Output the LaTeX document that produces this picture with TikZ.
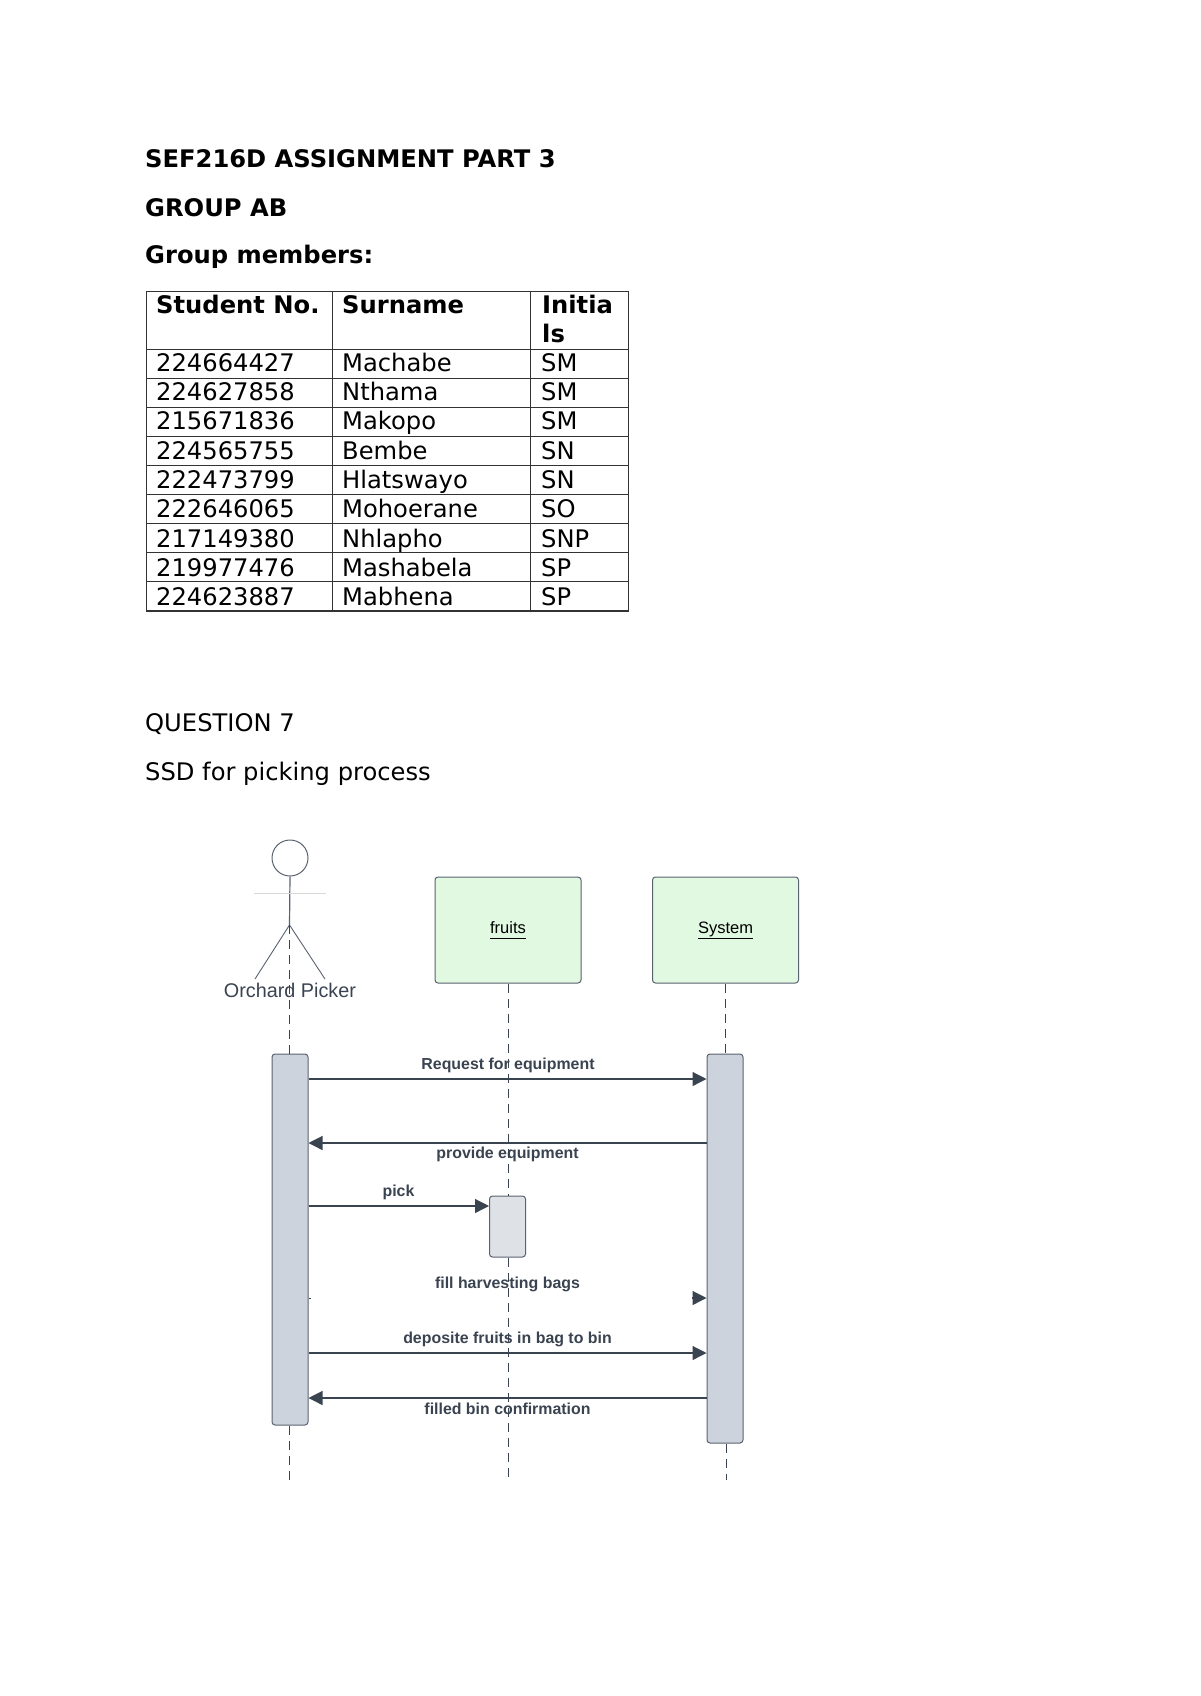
\documentclass[tikz,border=0pt]{standalone}
\usepackage{fontspec}
\setmainfont{DejaVu Sans}
\newfontfamily\lib{Liberation Sans}
\usetikzlibrary{arrows.meta,calc}
\definecolor{edgegrey}{HTML}{5A6270}
\definecolor{inkgrey}{HTML}{3A4350}
\definecolor{boxgreen}{HTML}{E1F8E1}
\definecolor{actgrey}{HTML}{CDD3DC}
\definecolor{pickgrey}{HTML}{DEE1E6}
\tikzset{
  doc/.style={anchor=base west,inner sep=0,font=\fontsize{24.2}{29}\selectfont},
  docb/.style={doc,font=\fontsize{24.2}{29}\selectfont\bfseries},
  rule/.style={black!80,line width=1pt},
  obj/.style={draw=edgegrey,fill=boxgreen,line width=1pt,rounded corners=3pt,minimum width=146,minimum height=106,inner sep=0,font=\lib\fontsize{16.5}{19}\selectfont,text=black},
  act/.style={draw=edgegrey,fill=actgrey,line width=1pt,rounded corners=3pt,minimum width=36,inner sep=0},
  life/.style={inkgrey,line width=1pt,dash pattern=on 9pt off 6pt},
  msg/.style={inkgrey,line width=1.2pt,-{Triangle[length=14pt,width=14pt]}},
  lab/.style={inner sep=0,text=inkgrey,font=\lib\fontsize{15.9}{18}\selectfont\bfseries}
}
\begin{document}
\begin{tikzpicture}[x=1pt,y=-1pt]
\useasboundingbox(0,0)rectangle(1200,1696);
\node[docb](title)at(145,168){SEF216D ASSIGNMENT PART 3};
\node[docb](group)at(145,217){GROUP AB};
\node[docb](members)at(145,264){Group members:};
% table
\draw[rule](146,291)rectangle(628,611);
\draw[rule](332,291)--(332,611);\draw[rule](530,291)--(530,611);\draw[rule](146,349)--(628,349);
\node[docb](hno)at(156,313){Student No.};\node[docb](hsn)at(342,313){Surname};\node[docb](hi1)at(542,313){Initia};\node[docb](hi2)at(542,342){ls};
\foreach \r/\no/\sn/\ini in {0/224664427/Machabe/SM,1/224627858/Nthama/SM,2/215671836/Makopo/SM,3/224565755/Bembe/SN,4/222473799/Hlatswayo/SN,5/222646065/Mohoerane/SO,6/217149380/Nhlapho/SNP,7/219977476/Mashabela/SP,8/224623887/Mabhena/SP}{
\node[doc](no\r)at(156,371+29.35*\r){\no};\node[doc](sn\r)at(342,371+29.35*\r){\sn};\node[doc](in\r)at(541,371+29.35*\r){\ini};
\draw[rule](146,378+29.1*\r)--(628,378+29.1*\r);}
\node[doc](q7)at(145,731){QUESTION 7};
\node[doc](ssd)at(145,780){SSD for picking process};
% actor
\node[draw=edgegrey,circle,line width=1pt,minimum size=36,inner sep=0](head)at(290,858){};
\coordinate(hip)at(289.5,925);\coordinate(armL)at(254,893);\coordinate(armR)at(326,893);\coordinate(legL)at(255,979);\coordinate(legR)at(325,979);
\draw[edgegrey,line width=1.2pt](head.south)--(hip);\draw[black!15,line width=1pt](armL)--(armR);\draw[edgegrey,line width=.9pt](legL)--(hip)--(legR);
\node[inner sep=0,text=inkgrey,font=\lib\fontsize{19.8}{22}\selectfont](picker)at(290,990){Orchard Picker};
% objects and bars
\node[obj](fruits)at(508,930){\underline{fruits\vphantom{y}}};
\node[obj](sys)at(725.5,930){\underline{System}};
\node[act,minimum height=371](barP)at(290,1239.5){};
\node[act,minimum height=389](barS)at(725,1248.5){};
\node[act,minimum height=61,fill=pickgrey](pickbox)at(507.5,1226.5){};
\coordinate(endP)at(289.5,1480);\coordinate(endF)at(508.5,1480);\coordinate(endS)at(726,1480);
\draw[life](hip)--(barP.north-|hip);\draw[life](barP.south-|hip)--(endP);
\draw[life](fruits.south-|endF)--(pickbox.north-|endF);\draw[life](pickbox.south-|endF)--(endF);
\draw[life](sys.south)--(barS.north-|sys);\draw[life](barS.south-|endS)--(endS);
% messages
\coordinate(m1)at(0,1079);\coordinate(m2)at(0,1143);\coordinate(m3)at(0,1206);\coordinate(m4)at(0,1298);\coordinate(m5)at(0,1353);\coordinate(m6)at(0,1398);
\draw[msg](barP.east|-m1)--(barS.west|-m1);\draw[msg](barS.west|-m2)--(barP.east|-m2);\draw[msg](barP.east|-m3)--(pickbox.west|-m3);
\coordinate(stub)at(692,1298);\draw[msg](stub)--(barS.west|-m4);\coordinate(tick)at(311,1298);\draw[inkgrey,line width=1pt](barP.east|-m4)--(tick);
\draw[msg](barP.east|-m5)--(barS.west|-m5);\draw[msg](barS.west|-m6)--(barP.east|-m6);
\node[lab](l1)at(508,1065){Request for equipment};\node[lab](l2)at(507.5,1154.5){provide equipment};\node[lab](l3)at(398.5,1192){pick};
\node[lab](l4)at(507.5,1284.5){fill harvesting bags};\node[lab](l5)at(507.5,1339.5){deposite fruits in bag to bin};\node[lab](l6)at(507.5,1408.5){filled bin confirmation};
\end{tikzpicture}
\end{document}
